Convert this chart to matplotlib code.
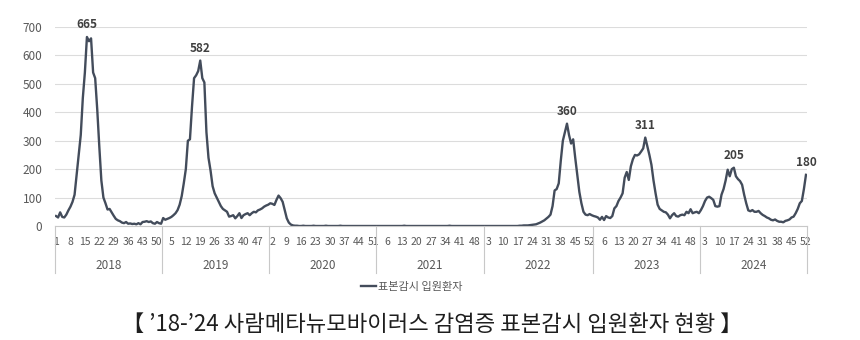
import numpy as np
import matplotlib.pyplot as plt
from matplotlib.transforms import blended_transform_factory

plt.rcParams['font.family'] = ['Noto Sans CJK KR', 'DejaVu Sans']

# weekly hMPV inpatient counts from sentinel surveillance, one list per year
years = ['2018', '2019', '2020', '2021', '2022', '2023', '2024']

cases_2018 = [35, 30, 48, 32, 30, 40, 55, 68, 85, 110,
              180, 250, 320, 450, 540, 665, 650, 660, 540, 520,
              410, 280, 160, 100, 80, 58, 60, 48, 36, 25,
              20, 17, 12, 10, 14, 8, 9, 7, 8, 6,
              10, 6, 14, 15, 17, 14, 16, 10, 8, 14,
              10, 8]
cases_2019 = [28, 22, 25, 28, 32, 38, 45, 56, 75, 105,
              150, 200, 300, 305, 420, 520, 530, 545, 582, 520,
              505, 330, 240, 195, 140, 115, 100, 85, 70, 60,
              55, 50, 33, 35, 38, 27, 35, 45, 28, 38,
              42, 45, 38, 45, 50, 48, 55, 58, 62, 68,
              72, 75]
cases_2020 = [80, 78, 74, 92, 107, 98, 85, 56, 27, 12,
              5, 2, 1, 1, 0, 0, 1, 0, 0, 0,
              0, 1, 0, 0, 0, 0, 0, 1, 0, 0,
              0, 0, 0, 0, 1, 0, 0, 0, 0, 0,
              0, 0, 0, 0, 0, 0, 0, 0, 0, 0,
              0, 0]
cases_2021 = [0, 0, 0, 0, 0, 0, 0, 0, 0, 0,
              0, 0, 0, 1, 0, 0, 0, 0, 0, 0,
              0, 0, 0, 0, 0, 0, 0, 0, 0, 0,
              0, 0, 0, 0, 0, 1, 0, 0, 0, 0,
              0, 0, 0, 0, 0, 0, 0, 0, 0, 0,
              0, 0]
cases_2022 = [0, 0, 0, 0, 0, 0, 0, 0, 0, 0,
              0, 0, 0, 0, 0, 0, 0, 1, 1, 2,
              2, 2, 3, 4, 5, 6, 9, 12, 16, 20,
              26, 32, 40, 70, 125, 130, 150, 230, 300, 330,
              360, 320, 290, 305, 240, 180, 120, 80, 50, 40,
              38, 42, 38]
cases_2023 = [35, 33, 30, 22, 32, 21, 35, 30, 28, 35,
              62, 70, 88, 100, 115, 170, 190, 162, 210, 235,
              250, 248, 252, 262, 273, 311, 280, 250, 215, 160,
              115, 75, 60, 55, 50, 48, 40, 27, 38, 45,
              35, 33, 38, 40, 38, 50, 45, 59, 45, 48,
              50, 45]
cases_2024 = [56, 70, 88, 100, 103, 98, 92, 70, 68, 70,
              110, 130, 160, 198, 175, 200, 205, 175, 165, 158,
              145, 110, 80, 55, 52, 56, 50, 50, 53, 45,
              39, 35, 30, 27, 22, 20, 23, 18, 15, 15,
              13, 18, 20, 23, 30, 33, 45, 60, 80, 88,
              130, 180]

series = [cases_2018, cases_2019, cases_2020, cases_2021,
          cases_2022, cases_2023, cases_2024]

# (year index, week) of the labelled peaks
peaks = [(0, 16), (1, 19), (4, 41), (5, 26), (6, 17), (6, 52)]

values = np.concatenate(series)
weeks = np.concatenate([np.arange(1, len(s) + 1) for s in series])
offsets = np.cumsum([0] + [len(s) for s in series])
x = np.arange(len(values))

fig = plt.figure(figsize=(8.6, 3.4), dpi=100)
ax = fig.add_axes([55 / 860, 1 - 226 / 340, 752 / 860, 199 / 340])

ax.plot(x, values, color='#434c5b', lw=1.7, solid_joinstyle='round',
        label='표본감시 입원환자')

ax.set_xlim(-0.5, len(values) - 0.5)
ax.set_ylim(0, 700)
ax.set_yticks(range(0, 701, 100))
ax.grid(axis='y', color='#dcdcdc', lw=0.8)
ax.set_axisbelow(True)
for side in ['top', 'right', 'left']:
    ax.spines[side].set_visible(False)
ax.spines['bottom'].set_color('#c8c8c8')
ax.spines['bottom'].set_linewidth(0.8)

tick_idx = x[::7]
ax.set_xticks(tick_idx, [str(weeks[i]) for i in tick_idx])
ax.tick_params(axis='x', length=0, pad=8, labelsize=7.5, colors='#595959')
ax.tick_params(axis='y', length=0, pad=9, labelsize=8.5, colors='#595959')

# second category level: year separators and names
trans = blended_transform_factory(ax.transData, ax.transAxes)
for i, yr in enumerate(years):
    start, end = offsets[i] - 0.5, offsets[i + 1] - 0.5
    ax.plot([start, start], [0, -0.236], transform=trans, color='#c8c8c8',
            lw=0.8, clip_on=False)
    ax.text((start + end) / 2, -0.196, yr, transform=trans, ha='center',
            va='center', fontsize=8.5, color='#595959')
ax.plot([offsets[-1] - 0.5] * 2, [0, -0.236], transform=trans,
        color='#c8c8c8', lw=0.8, clip_on=False)

for yi, wk in peaks:
    val = series[yi][wk - 1]
    ax.annotate(str(val), (offsets[yi] + wk - 1, val), xytext=(0, 4),
                textcoords='offset points', ha='center', va='bottom',
                fontsize=8.5, fontweight='bold', color='#404040')

fig.legend(loc='center', bbox_to_anchor=(412 / 860, 1 - 287 / 340),
           frameon=False, fontsize=8, handlelength=1.3, handletextpad=0.2,
           labelcolor='#595959')

fig.text(432 / 860, 1 - 324 / 340,
         '【 ’18-’24 사람메타뉴모바이러스 감염증 표본감시 입원환자 현황 】',
         ha='center', va='center', fontsize=16, color='#1e1e1e')

fig.savefig('out.png', dpi=100)
